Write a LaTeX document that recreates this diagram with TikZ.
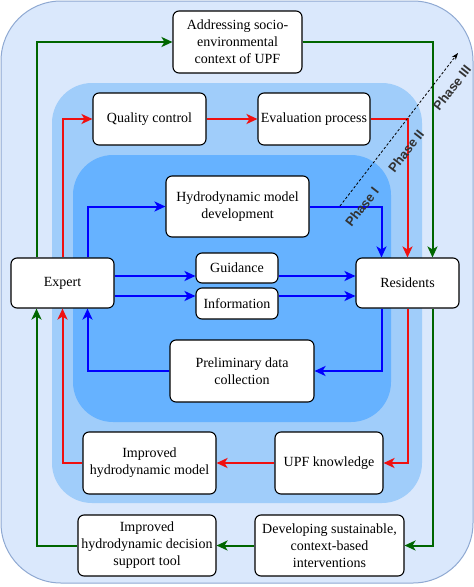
\documentclass[tikz,border=0pt]{standalone}
\usepackage{fontspec}
\setmainfont{Liberation Serif}
\newfontfamily\phasefont{Liberation Sans}
\usetikzlibrary{arrows.meta}
\definecolor{outerbg}{HTML}{DAE8FC}
\definecolor{outerline}{HTML}{8FA9D2}
\definecolor{midbg}{HTML}{A0CDFA}
\definecolor{innerbg}{HTML}{66B2FF}
\definecolor{flowgreen}{HTML}{006600}
\definecolor{flowred}{HTML}{F01010}
\definecolor{flowblue}{HTML}{0000FF}
\definecolor{phasegray}{HTML}{333333}
\tikzset{
  box/.style={draw, fill=white, rounded corners=6pt, line width=1.1pt, align=center,
    inner sep=1pt, font=\fontsize{14}{17}\selectfont},
  flow/.style={line width=2pt, -{Stealth[length=11pt,width=10pt,inset=3pt]}},
  grn/.style={flow, draw=flowgreen},
  rd/.style={flow, draw=flowred},
  blu/.style={flow, draw=flowblue},
  phaselabel/.style={font=\phasefont\bfseries\fontsize{13}{15}\selectfont, text=phasegray, rotate=52}
}
\begin{document}
\begin{tikzpicture}[x=1pt,y=-1pt]
            \useasboundingbox (0,0) rectangle (474,587);
            \draw[fill=outerbg, draw=outerline, line width=1pt, rounded corners=60pt] (1,1) rectangle (473,583);
            \fill[midbg, rounded corners=40pt] (52,83) rectangle (422,503);
            \fill[innerbg, rounded corners=40pt] (73,155) rectangle (391,422);

            \node[box, minimum width=129pt, minimum height=62pt] (addr) at (237.5,42) {Addressing socio-\\environmental\\context of UPF};
            \node[box, minimum width=113pt, minimum height=52pt] (qual) at (149.5,119) {Quality control};
            \node[box, minimum width=112pt, minimum height=52pt] (eval) at (314,119) {Evaluation process};
            \node[box, minimum width=143pt, minimum height=61pt] (hydro) at (237.5,206.5) {Hydrodynamic model\\development};
            \node[box, minimum width=82pt, minimum height=30pt] (guid) at (237,268) {Guidance};
            \node[box, minimum width=82pt, minimum height=31pt] (info) at (237,303.5) {Information};
            \node[box, minimum width=103pt, minimum height=50pt] (expert) at (62.5,283) {Expert};
            \node[box, minimum width=103pt, minimum height=50pt] (res) at (407.5,283) {Residents};
            \node[box, minimum width=144pt, minimum height=62pt] (prelim) at (242,371) {Preliminary data\\collection};
            \node[box, minimum width=133pt, minimum height=62pt] (imod) at (149.5,463) {Improved\\hydrodynamic model};
            \node[box, minimum width=108pt, minimum height=62pt] (upf) at (329,463) {UPF knowledge};
            \node[box, minimum width=138pt, minimum height=61pt] (tool) at (147,545.5) {Improved\\hydrodynamic decision\\support tool};
            \node[box, minimum width=149pt, minimum height=61pt] (devel) at (329.5,545.5) {Developing sustainable,\\context-based\\interventions};

            \draw[grn] ([xshift=-26pt]expert.north) |- (addr.west);
            \draw[grn] (addr.east) -| ([xshift=25pt]res.north);
            \draw[grn] ([xshift=25pt]res.south) |- (devel.east);
            \draw[grn] (devel.west) -- (tool.east);
            \draw[grn] (tool.west) -| ([xshift=-26pt]expert.south);

            \draw[rd] (expert.north) |- (qual.west);
            \draw[rd] (qual.east) -- (eval.west);
            \draw[rd] (eval.east) -| (res.north);
            \draw[rd] (res.south) |- (upf.east);
            \draw[rd] (upf.west) -- (imod.east);
            \draw[rd] (imod.west) -| (expert.south);

            \draw[blu] ([xshift=25pt]expert.north) |- (hydro.west);
            \draw[blu] (hydro.east) -| ([xshift=-26pt]res.north);
            \draw[blu] ([yshift=7pt]expert.east) -- ([yshift=-8pt]guid.west);
            \draw[blu] ([yshift=-8pt]guid.east) -- ([yshift=7pt]res.west);
            \draw[blu] ([yshift=-13pt]expert.east) -- ([yshift=7.5pt]info.west);
            \draw[blu] ([yshift=7.5pt]info.east) -- ([yshift=-13pt]res.west);
            \draw[blu] ([xshift=-26pt]res.south) |- (prelim.east);
            \draw[blu] (prelim.west) -| ([xshift=25pt]expert.south);

            \coordinate (phstart) at (340,206);
            \coordinate (phend) at (458,53);
            \draw[line width=0.8pt, dash pattern=on 2.5pt off 2pt, -{Stealth[length=7pt,width=5pt]}] (phstart) -- (phend);
            \node[phaselabel] (ph1) at (362,207) {Phase I};
            \node[phaselabel] (ph2) at (406,151) {Phase II};
            \node[phaselabel] (ph3) at (452,88) {Phase III};
        \end{tikzpicture}
\end{document}
